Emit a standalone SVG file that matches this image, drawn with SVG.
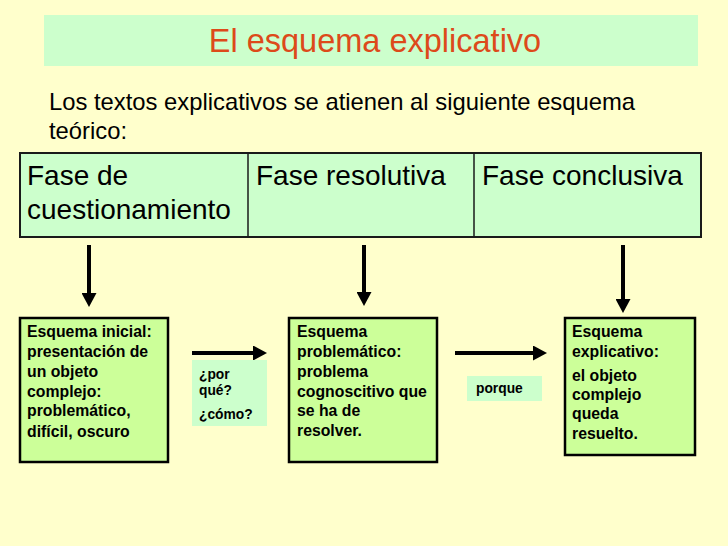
<svg xmlns="http://www.w3.org/2000/svg" width="728" height="546" viewBox="0 0 728 546">
<defs>
<style>
text{font-family:"Liberation Sans",Arial,Helvetica,sans-serif;fill:#000}
.title{font-size:32.5px;fill:#DD4A1A}
.sub{font-size:23.8px}
.fase{font-size:28px}
.bx{font-size:15.8px;font-weight:bold}
.sm{font-size:13.8px;font-weight:bold}
.box{fill:#CCFF99;stroke:#000;stroke-width:2.5}
.lbl{fill:#CCFFCC}
.conn{stroke:#000;stroke-width:4;fill:none;marker-end:url(#ah)}
</style>
<marker id="ah" markerUnits="userSpaceOnUse" markerWidth="14" markerHeight="15" viewBox="0 -7.5 14 15" refX="0" refY="0" orient="auto">
<path d="M0,-7.5 L14,0 L0,7.5 Z" fill="#000"/>
</marker>
</defs>
<rect x="0" y="0" width="728" height="546" fill="#FFFFCC"/>
<g id="title">
<rect x="44" y="15" width="654" height="51" fill="#CCFFCC"/>
<text class="title" x="375" y="52" text-anchor="middle">El esquema explicativo</text>
</g>
<g id="subtitle">
<text class="sub" x="49" y="110">Los textos explicativos se atienen al siguiente esquema</text>
<text class="sub" x="49" y="139">teórico:</text>
</g>
<g id="table">
<rect x="20" y="153" width="681" height="84" fill="#CCFFCC" stroke="#1a1a1a" stroke-width="2"/>
<line x1="248" y1="153" x2="248" y2="237" stroke="#1a1a1a" stroke-width="1.5"/>
<line x1="474" y1="153" x2="474" y2="237" stroke="#1a1a1a" stroke-width="1.5"/>
<text class="fase" x="27" y="185">Fase de</text>
<text class="fase" x="27" y="219">cuestionamiento</text>
<text class="fase" x="256" y="185">Fase resolutiva</text>
<text class="fase" x="482" y="185">Fase conclusiva</text>
</g>
<g id="connectors">
<line class="conn" x1="89" y1="245" x2="89" y2="293"/>
<line class="conn" x1="364" y1="245" x2="364" y2="292"/>
<line class="conn" x1="623" y1="245" x2="623" y2="299"/>
<line class="conn" x1="192" y1="353" x2="253" y2="353"/>
<line class="conn" x1="455" y1="353" x2="533" y2="353"/>
</g>
<g id="box1">
<rect class="box" x="20" y="318" width="148" height="144"/>
<text class="bx" x="27" y="337">Esquema inicial:</text>
<text class="bx" x="27" y="357">presentación de</text>
<text class="bx" x="27" y="377">un objeto</text>
<text class="bx" x="27" y="397">complejo:</text>
<text class="bx" x="27" y="416">problemático,</text>
<text class="bx" x="27" y="437">difícil, oscuro</text>
</g>
<g id="label1">
<rect class="lbl" x="192" y="360" width="75" height="66"/>
<text class="sm" x="199" y="379">¿por</text>
<text class="sm" x="199" y="395">qué?</text>
<text class="sm" x="199" y="419">¿cómo?</text>
</g>
<g id="box2">
<rect class="box" x="289" y="318" width="148" height="144"/>
<text class="bx" x="297" y="337">Esquema</text>
<text class="bx" x="297" y="357">problemático:</text>
<text class="bx" x="297" y="377">problema</text>
<text class="bx" x="297" y="397">cognoscitivo que</text>
<text class="bx" x="297" y="416">se ha de</text>
<text class="bx" x="297" y="436">resolver.</text>
</g>
<g id="label2">
<rect class="lbl" x="467" y="376" width="75" height="25"/>
<text class="sm" x="476" y="393">porque</text>
</g>
<g id="box3">
<rect class="box" x="565" y="318" width="130" height="137"/>
<text class="bx" x="572" y="337">Esquema</text>
<text class="bx" x="572" y="357">explicativo:</text>
<text class="bx" x="572" y="381">el objeto</text>
<text class="bx" x="572" y="400">complejo</text>
<text class="bx" x="572" y="419">queda</text>
<text class="bx" x="572" y="439">resuelto.</text>
</g>
</svg>
